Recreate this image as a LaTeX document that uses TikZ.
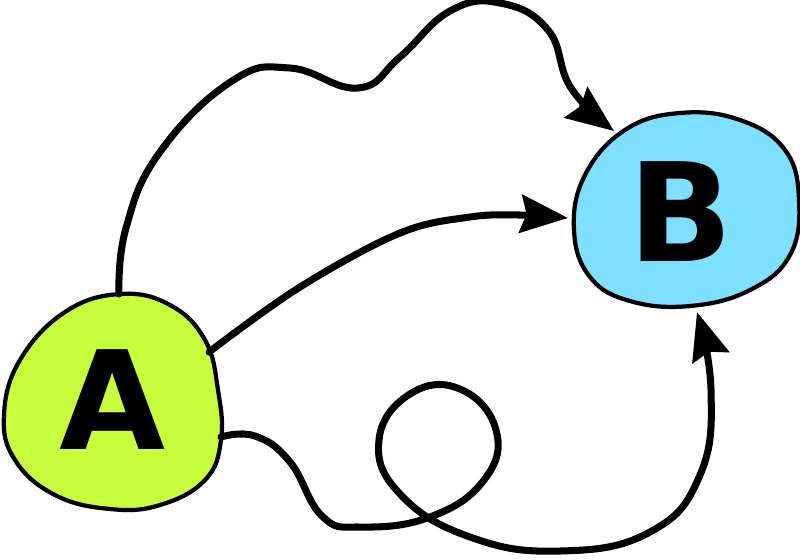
\documentclass[tikz,border=0pt]{standalone}
\usepackage{fontspec}
\setmainfont{DejaVu Sans}
\usetikzlibrary{arrows.meta}
\definecolor{limeA}{RGB}{200,255,60}
\definecolor{skyB}{RGB}{128,223,255}
\tikzset{
  blob/.style={draw=black, line width=2.4pt, line join=round},
  conn/.style={draw=black, line width=4pt, line cap=round, line join=round,
    -{Stealth[length=0.95cm,width=0.76cm,inset=0.12cm]}},
  letter/.style={font=\fontsize{78}{80}\selectfont\bfseries, inner sep=0pt}
}
\begin{document}
\begin{tikzpicture}[x=0.02cm,y=-0.02cm]
\useasboundingbox (0,0) rectangle (800,559);
% blobs
\path[blob, fill=limeA] plot[smooth cycle, tension=0.7] coordinates {
 (120,294) (170,305) (205,340) (218,390) (221,440) (205,480) (160,505)
 (110,509) (55,495) (15,460) (4,415) (20,360) (65,312)};
\path[blob, fill=skyB] plot[smooth cycle, tension=0.7] coordinates {
 (680,113) (740,120) (785,150) (799,200) (790,255) (750,290) (690,306)
 (630,301) (590,277) (574,230) (585,175) (625,130)};
\node[letter] (A) at (113,400) {A};
\node[letter] (B) at (681,212) {B};
% anchor coordinates on the blobs
\coordinate (a1) at (119,294);
\coordinate (a2) at (209,352);
\coordinate (a3) at (221,437);
\coordinate (b1) at (614,131);
\coordinate (b2) at (568,218);
\coordinate (b3) at (697,312);
% connectors
\draw[conn] plot[smooth, tension=0.75] coordinates {
 (a1) (126,228) (160,152) (232,81) (290,68) (358,88) (400,57) (450,11)
 (500,3) (548,30) (571,88) (b1)};
\draw[conn] plot[smooth, tension=0.6] coordinates {
 (a2) (300,287) (400,233) (470,217) (520,215) (b2)};
\draw[conn] plot[smooth, tension=0.75] coordinates {
 (a3) (255,436) (290,462) (322,516) (360,527) (430,517) (484,480)
 (496,430) (460,389) (410,394) (379,440) (400,494) (470,537) (560,551)
 (650,532) (700,475) (711,390) (b3)};
\end{tikzpicture}
\end{document}
